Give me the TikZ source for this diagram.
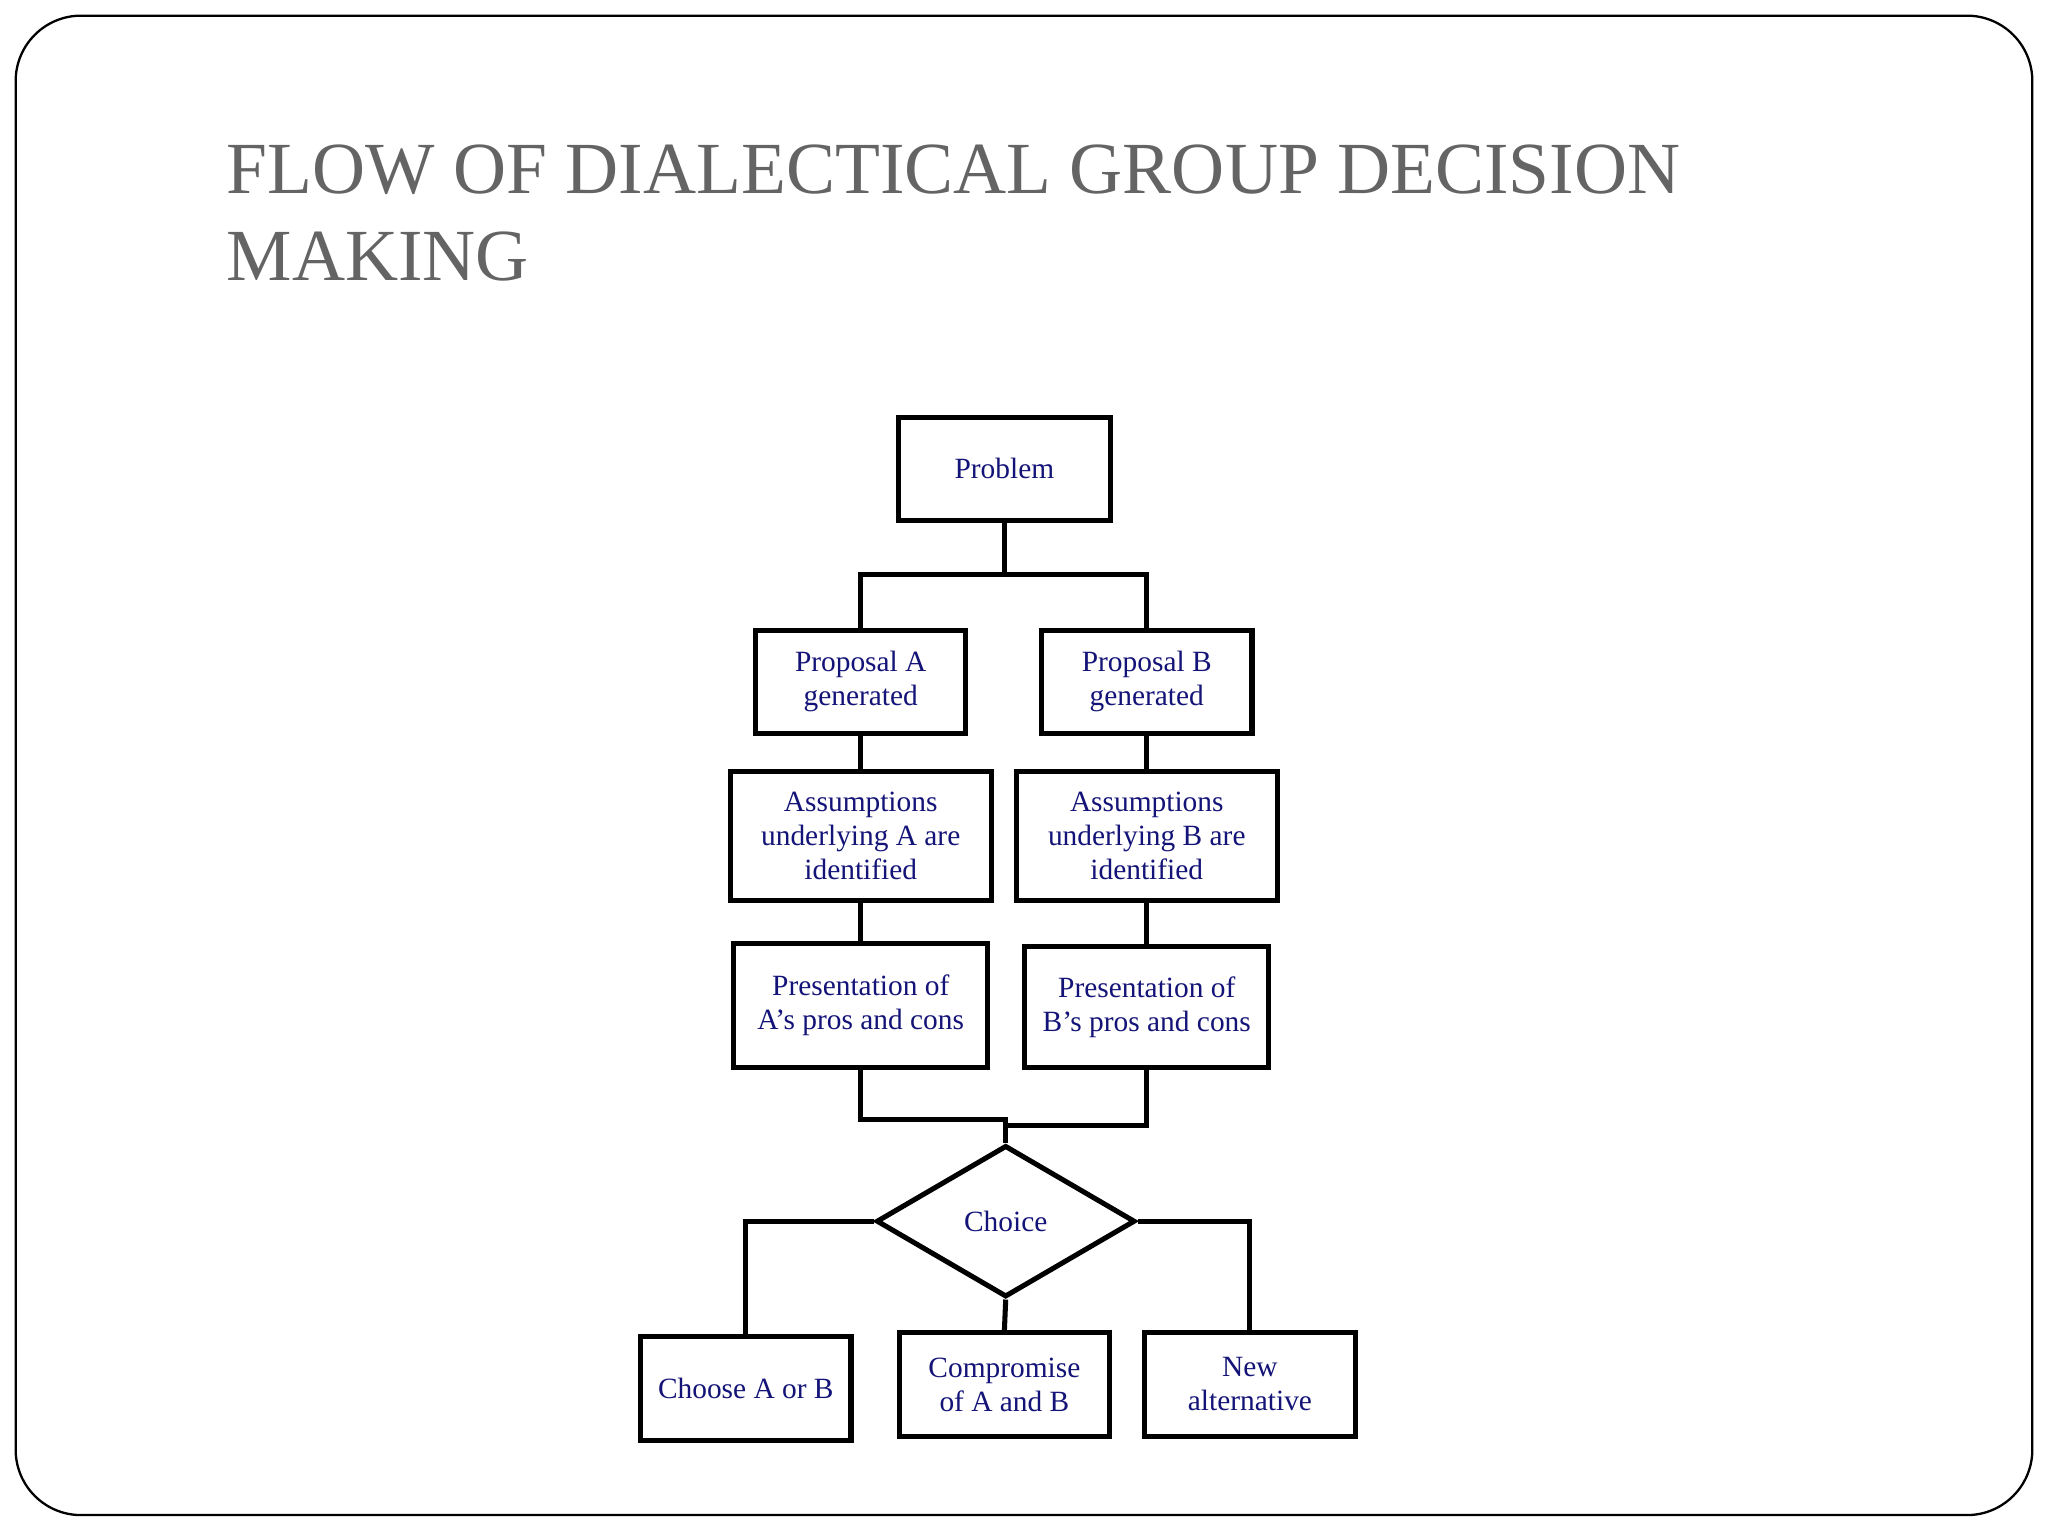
\documentclass[tikz,border=0pt]{standalone}
\usepackage{fontspec}
\setmainfont{Liberation Serif}
\usetikzlibrary{shapes.geometric}
\definecolor{navy}{RGB}{20,20,120}
\definecolor{ttl}{RGB}{100,100,100}
\begin{document}
\begin{tikzpicture}[x=0.01cm,y=-0.01cm,
  box/.style={draw=black,line width=1.1pt,fill=white,align=center,text=navy,
    font=\fontsize{6.4}{7.4}\selectfont,inner sep=0pt},
  ln/.style={draw=black,line width=1.1pt}]
\useasboundingbox (0,0) rectangle (1568,1176);
\draw[line width=0.5pt,rounded corners=0.5cm] (12,12) rectangle (1556,1160);
\node[anchor=base west,inner sep=0pt,text=ttl,font=\fontsize{16}{19}\selectfont] (t1) at (173,148) {FLOW OF DIALECTICAL GROUP DECISION};
\node[anchor=base west,inner sep=0pt,text=ttl,font=\fontsize{16}{19}\selectfont] (t2) at (173,215) {MAKING};
\node[box,minimum width=1.62cm,minimum height=0.79cm] (p) at (769,359) {Problem};
\node[box,minimum width=1.61cm,minimum height=0.79cm] (pa) at (659,522) {Proposal A\\generated};
\node[box,minimum width=1.61cm,minimum height=0.79cm] (pb) at (878,522) {Proposal B\\generated};
\node[box,minimum width=2.0cm,minimum height=0.99cm] (aa) at (659,640) {Assumptions\\underlying A are\\identified};
\node[box,minimum width=2.0cm,minimum height=0.99cm] (ab) at (878,640) {Assumptions\\underlying B are\\identified};
\node[box,minimum width=1.94cm,minimum height=0.95cm] (ra) at (659,770) {Presentation of\\A's pros and cons};
\node[box,minimum width=1.87cm,minimum height=0.93cm] (rb) at (878,771) {Presentation of\\B's pros and cons};
\node[box,diamond,minimum width=1.98cm,minimum height=1.16cm,aspect=1.7] (c) at (770,935) {Choice};
\node[box,minimum width=1.61cm,minimum height=0.79cm] (o1) at (571,1063) {Choose A or B};
\node[box,minimum width=1.61cm,minimum height=0.79cm] (o2) at (769,1060) {Compromise\\of A and B};
\node[box,minimum width=1.61cm,minimum height=0.79cm] (o3) at (957,1060) {New\\alternative};
\coordinate (j1) at (769,440);
\draw[ln] (p.south) -- (j1);
\draw[ln] (pa.north) |- (j1) -| (pb.north);
\draw[ln] (pa) -- (aa); \draw[ln] (aa) -- (ra);
\draw[ln] (pb) -- (ab); \draw[ln] (ab) -- (rb);
\coordinate (j2) at (770,857);
\coordinate (j3) at (770,862);
\draw[ln] (ra.south) |- (j2) -- (c.north);
\draw[ln] (rb.south) |- (j3);
\draw[ln] (c.west) -| (o1.north);
\draw[ln] (c.east) -| (o3.north);
\draw[ln] (c.south) -- (o2.north);
\end{tikzpicture}
\end{document}
